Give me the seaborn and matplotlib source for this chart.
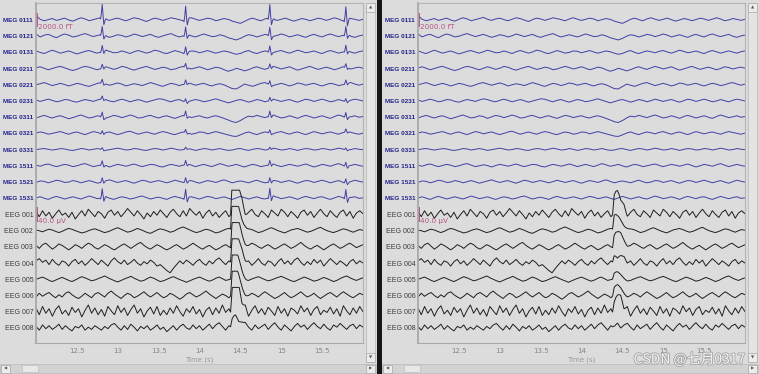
import numpy as np
import pandas as pd
import matplotlib
matplotlib.use("Agg")
import matplotlib.pyplot as plt
import seaborn as sns
from matplotlib.patches import Rectangle
import matplotlib.patheffects as pe

# ---------------- data ----------------
T_START, T_STOP = 12.0, 16.0
MEG_STEP = 0.05   # s between values of the MEG lists
EEG_STEP = 0.04   # s between values of the EEG lists

MEG_NAMES = ['MEG 0111', 'MEG 0121', 'MEG 0131', 'MEG 0211', 'MEG 0221', 'MEG 0231',
             'MEG 0311', 'MEG 0321', 'MEG 0331', 'MEG 1511', 'MEG 1521', 'MEG 1531']
EEG_NAMES = ['EEG 001', 'EEG 002', 'EEG 003', 'EEG 004',
             'EEG 005', 'EEG 006', 'EEG 007', 'EEG 008']

# cleaned MEG traces (fT)
MEG_0111 = [600, 100, -100, 50, 200, -50, 100, 250, 0, -150,
            100, 300, 150, -100, 50, 200, 350, 100, -50, 150,
            250, 50, -100, 100, 300, 200, 0, -200, 50, 250,
            150, -50, 100, 300, 200, 50, -100, 150, 300, 100,
            -50, 100, 250, 150, -100, 50, 200, 100, -150, -300,
            -450, -200, 100, 250, 50, -100, 150, 300, 100, -50,
            100, 250, 50, -150, 0, 200, 100, -100, 50, 250,
            150, -50, 100, 300, 150, -100, 0, 200, 100, -50, 100]
MEG_0121 = [300, -100, 150, 250, 0, -200, 100, 300, 150, -100,
            0, 200, 350, 150, -50, 100, 250, 50, -150, 0,
            200, 100, -100, 50, 300, 150, -50, 100, 250, 0,
            -150, 50, 200, 350, 100, -100, 50, 200, 50, -100,
            100, 300, 150, -50, 0, 200, 50, -200, -350, -500,
            -300, 0, 200, 100, -100, 50, 250, 150, -50, 100,
            300, 150, -100, 50, 200, 0, -150, 100, 250, 50,
            -100, 150, 300, 100, -50, 100, 250, 0, -150, 50, 150]
MEG_0131 = [200, 0, -150, 100, 300, 100, -100, 50, 200, 0,
            -200, -50, 150, 250, 50, -100, 100, 300, 150, -50,
            0, 200, 50, -150, 100, 250, 100, -100, 50, 300,
            200, -50, -150, 50, 250, 100, -100, 0, 200, 150,
            -50, 100, 250, 50, -100, 50, 200, 100, -100, -250,
            -150, 100, 250, 0, -150, 50, 200, 100, -50, 150,
            250, 50, -100, 100, 300, 150, -50, 50, 200, 0,
            -150, 100, 250, 100, -100, 50, 200, 50, -100, 100, 200]
MEG_0211 = [100, 250, 50, -150, 0, 200, 300, 100, -100, -250,
            -100, 150, 300, 200, 0, -150, 50, 250, 100, -100,
            50, 300, 200, -50, -200, 0, 150, 300, 100, -100,
            0, 200, 100, -150, -50, 150, 300, 150, -50, 100,
            250, 50, -150, 0, 200, 100, -150, -350, -200, 50,
            -100, -300, -150, 100, 250, 50, -100, 100, 300, 150,
            -50, 100, 250, 0, -200, -50, 150, 300, 100, -100,
            50, 200, 50, -150, 0, 250, 150, -50, 100, 200, 50]
MEG_0221 = [0, 150, 300, 100, -100, 50, 200, 50, -150, 0,
            200, 100, -100, -200, 0, 200, 300, 100, -50, 100,
            250, 100, -150, 0, 150, 50, -100, 100, 300, 150,
            -50, -200, 0, 200, 100, -100, 50, 250, 150, -50,
            100, 200, 0, -150, 50, 150, 0, -250, -500, -550,
            -250, 100, -50, -200, 0, 200, 300, 100, -100, 50,
            200, 50, -150, 0, 250, 150, -50, 100, 200, 0,
            -150, 50, 200, 100, -100, 0, 200, 300, 100, -50, 100]
MEG_0231 = [150, -50, 100, 250, 100, -100, 0, 200, 150, -50,
            -150, 50, 200, 100, -50, 150, 300, 200, 0, -100,
            100, 250, 100, -100, 50, 200, 50, -150, 0, 150,
            300, 250, 50, -100, 100, 200, 0, -150, 50, 200,
            100, -100, 0, 150, 300, 100, -50, -250, -100, 100,
            200, 50, -150, 0, 200, 100, -100, 50, 250, 100,
            -50, 100, 200, 0, -150, 50, 250, 150, -50, 100,
            250, 100, -100, 0, 200, 50, -100, 100, 250, 150, 0]
MEG_0311 = [-100, 100, 250, 50, -100, 100, 200, 0, -200, -50,
            150, 300, 100, -100, 0, 200, 100, -150, 50, 250,
            150, -50, 100, 300, 150, -100, -50, 150, 250, 50,
            -100, 100, 200, 0, -150, 50, 250, 150, -50, 100,
            200, 0, -100, 100, 200, 50, -150, -350, -600, -700,
            -450, -100, 150, 50, 250, 100, -50, 150, 300, 100,
            -100, 0, 200, 50, -150, 100, 250, 100, -100, 50,
            200, 0, -150, 100, 300, 150, -50, 50, 200, 0, 100]
MEG_0321 = [50, 200, 100, -100, 0, 150, 250, 50, -100, 100,
            200, 0, -150, 50, 250, 150, -50, 100, 200, 0,
            -150, 0, 200, 300, 100, -100, 50, 200, 50, -100,
            100, 250, 150, -50, -150, 50, 200, 100, -100, 0,
            200, 150, -50, 100, 250, 100, -50, -200, -350, -400,
            -200, 50, 200, 0, -150, 50, 200, 100, -50, 150,
            250, 50, -100, 100, 200, 0, -150, 50, 250, 100,
            -50, 100, 200, 50, -100, 100, 250, 150, 0, -100, 50]
MEG_0331 = [0, 100, 150, 50, -50, 50, 150, 100, -50, -100,
            0, 150, 100, -50, 50, 150, 50, -100, 0, 100,
            200, 100, -50, 0, 150, 100, -50, -100, 50, 150,
            100, -50, 50, 200, 100, -50, 0, 150, 50, -100,
            0, 150, 100, -50, 50, 150, 0, -100, -50, 100,
            150, 0, -100, 50, 150, 100, -50, 50, 200, 100,
            -50, 0, 150, 50, -100, 50, 150, 100, -50, 0,
            150, 100, -50, 50, 200, 100, -50, 0, 150, 50, 0]
MEG_1511 = [100, -50, 150, 250, 50, -100, 50, 200, 100, -100,
            0, 200, 300, 100, -100, 0, 150, 50, -150, 50,
            200, 100, -50, 100, 250, 50, -100, 50, 200, 150,
            -50, -150, 50, 200, 100, -50, 100, 250, 100, -100,
            50, 200, 50, -100, 100, 300, 150, -50, 50, 200,
            0, -150, 50, 200, 100, -100, 0, 150, 250, 50,
            -100, 50, 200, 100, -50, 100, 250, 50, -150, 0,
            200, 100, -50, 150, 300, 100, -100, 50, 200, 50, -50]
MEG_1521 = [-50, 150, 100, -100, 50, 250, 150, -50, 0, 200,
            100, -100, 50, 200, 50, -150, 0, 150, 300, 100,
            -50, 100, 200, 0, -150, 50, 250, 150, -50, 100,
            200, 50, -100, 50, 250, 100, -50, 100, 200, 0,
            -150, 50, 200, 100, -50, 150, 300, 100, -100, 50,
            150, 50, -100, 100, 250, 50, -100, 0, 200, 150,
            -50, 100, 200, 0, -150, 50, 200, 150, -50, 100,
            250, 100, -100, 50, 200, 0, -150, 50, 250, 100, 0]
MEG_1531 = [50, 200, 0, -150, 100, 250, 100, -100, 50, 200,
            50, -100, 100, 300, 150, -50, 50, 200, 0, -150,
            50, 200, 100, -100, 0, 200, 300, 100, -100, 50,
            150, 0, -150, 100, 250, 100, -50, 50, 200, 50,
            -100, 100, 250, 150, -50, 50, 200, 0, -150, 50,
            250, 100, -100, 50, 200, 0, -100, 100, 300, 150,
            -50, 50, 200, 50, -150, 100, 250, 100, -50, 150,
            200, 0, -150, 50, 250, 100, -50, 100, 200, 0, 50]

# cleaned EEG traces (uV)
EEG_001 = [8, -6, 10, -4, 6, -10, 2, 12, -2, 4, -8, 6, -12, 0, 10, -4, 14, 4, -6, 8,
           2, -10, 6, 12, -2, 8, -6, 4, 16, 6, -4, 10, 0, -12, 4, -6, 8, -2, 12, 2,
           -8, 6, 14, 2, -6, 10, -4, 16, 6, -2, 8, -10, 4, 12, -4, 6, -8, 2, 10, -6,
           4, 12, -2, 8, -10, 6, 14, 0, -6, 10, 2, -8, 12, 4, -4, 14, 6, -6, 8, 0,
           -10, 6, 12, -2, 8, -8, 4, 14, 2, -6, 10, 0, -8, 6, 12, -4, 8, -10, 4, 10, 2]
EEG_002 = [2, 0, -3, 1, 4, 2, -2, -5, -2, 3, 6, 4, 0, -3, -6, -4, 0, 3, 5, 2,
           -2, -5, -3, 1, 5, 8, 4, 0, -4, -2, 2, 6, 3, -1, -5, -7, -3, 2, 5, 3,
           0, -4, -2, 3, 7, 10, 6, 2, -2, -5, -3, 1, 4, 2, -2, -6, -4, 0, 4, 6,
           3, -1, -4, -2, 2, 5, 3, -1, -5, -3, 1, 5, 8, 4, 0, -3, -6, -2, 2, 4,
           6, 3, -1, -4, -2, 2, 6, 9, 4, 0, -3, -5, -2, 2, 5, 3, -1, -4, 0, 3, 1]
EEG_003 = [4, -4, 6, 10, 2, -6, 0, 8, 4, -2, -8, -2, 6, 2, -4, 4, 10, 6, -2, -6,
           0, 6, 2, -4, -8, -2, 4, 8, 2, -4, 2, 8, 12, 4, -2, -6, 0, 6, 2, -4,
           -8, -4, 2, 6, 0, -6, -2, 4, 10, 4, -2, -6, 0, 4, -2, -8, -4, 2, 6, 0,
           -4, 2, 8, 4, -2, 4, 10, 6, 0, -4, 2, 6, 0, -6, -2, 4, 8, 2, -4, 0,
           6, 12, 4, -2, -6, 0, 4, -2, -8, -2, 4, 8, 2, -4, 0, 6, 10, 4, -2, 2, 6]
EEG_004 = [6, 12, 2, 8, -4, 10, 0, -6, 6, 2, -8, 4, 10, -2, 6, -6, 2, 12, 4, -4,
           8, 0, -8, 6, 14, 4, -2, 8, -4, 2, 10, 0, -6, 4, -2, 8, 2, -8, -4, -12,
           -20, -26, -14, -4, 6, -2, 8, 2, -6, 4, 10, 0, -6, 6, -2, 8, 14, 4, -4, 6,
           0, -8, 4, 10, -2, 6, -6, 2, 12, 0, -6, 6, 2, -8, 4, 12, -2, 6, -4, 8,
           14, 2, -6, 4, -4, 10, 0, 8, -8, 2, 12, 4, -4, 6, 0, -8, 4, 10, -2, 6, 0]
EEG_005 = [0, 3, 6, 2, -3, -6, -2, 2, 5, 1, -3, -6, -2, 3, 7, 4, 0, -4, -2, 2,
           5, 9, 4, 0, -4, -7, -3, 1, 4, 8, 3, -1, -5, -3, 2, 6, 3, -2, -6, -4,
           0, 4, 7, 3, -1, -4, -8, -4, 0, 3, 6, 2, -2, -5, -2, 3, 6, 2, -3, -1,
           2, 5, 1, -3, -6, -3, 1, 4, 7, 3, -1, -4, -2, 2, 5, 8, 4, 0, -4, -6,
           -2, 2, 6, 3, -1, -5, -3, 1, 5, 2, -2, -6, -3, 2, 6, 9, 4, 0, -3, 1, 4]
EEG_006 = [-4, 6, -2, 4, 8, 0, -6, 2, -4, 6, 10, 2, -4, -8, -2, 6, 0, -6, 4, 8,
           2, -4, 6, 12, 4, -2, -8, 0, 6, 2, -6, -2, 4, 10, 2, -4, 2, 8, 0, -6,
           -2, 6, 2, -4, -10, -4, 4, 8, 2, -4, 0, 6, 12, 4, -2, -8, -2, 4, 0, -6,
           2, 8, 4, -2, -6, 0, 6, 2, -4, 4, 10, 4, -2, -8, -4, 2, 8, 0, -6, -2,
           4, 10, 2, -4, 0, 6, -2, -8, -2, 4, 8, 2, -4, 4, 10, 4, -2, -6, 0, 6, 2]
EEG_007 = [10, -8, 14, -4, 8, -12, 6, 16, -6, 4, -10, 12, -2, 8, -14, 4, 18, -4, 10, -8,
           6, -12, 14, 2, -8, 16, -2, 10, -10, 6, 18, -4, 8, -14, 2, 12, -6, 14, -10, 4,
           -8, 10, -4, 16, 0, -12, 8, -2, 14, -6, 6, -14, 4, 12, -8, 10, -4, 18, -2, 8,
           -10, 6, 14, -6, 10, -12, 4, 16, -4, 8, -8, 12, 2, -10, 14, -4, 8, -12, 10, 4,
           -6, 16, 0, 10, -10, 6, 14, -8, 4, -2, 12, -6, 8, -12, 16, 2, -8, 10, -4, 14, 0]
EEG_008 = [4, -6, 8, -2, 6, -4, 2, 10, -4, 6, -2, -8, 4, 0, 8, -6, 2, -4, 6, 0,
           -6, 4, -2, 8, 12, 2, -6, 6, -4, 10, 2, -8, 4, -2, 6, -6, 0, 8, -4, 2,
           -10, -2, 6, -6, 4, 10, 0, -4, 8, -2, 6, -6, 2, 10, -2, 8, 14, 4, -6, 6,
           0, 8, -4, 6, 12, 2, -6, 8, -2, 4, 10, -4, 6, 14, 2, -6, 8, 0, -8, 4,
           12, 2, 8, -4, 6, 14, 4, -2, 10, 0, -6, 8, 2, 12, 4, -4, 6, 10, -2, 8, 2]

MEG_TRACES = [MEG_0111, MEG_0121, MEG_0131, MEG_0211, MEG_0221, MEG_0231,
              MEG_0311, MEG_0321, MEG_0331, MEG_1511, MEG_1521, MEG_1531]
EEG_TRACES = [EEG_001, EEG_002, EEG_003, EEG_004, EEG_005, EEG_006, EEG_007, EEG_008]

# heartbeat artefact (only in the raw panel)
CARDIAC_TIMES = [12.81, 13.83, 14.86, 15.79]
CARDIAC_STEP = 0.01
CARDIAC_SHAPE = [0.0, -0.1, 0.3, 1.0, 0.2, -0.45, -0.2, 0.0, 0.05, 0.0]
CARDIAC_AMP_FT = [1800, 1100, 800, 500, 500, 400, 650, 400, 250, 550, 550, 1200]

# eye blink (raw panel full, cleaned panel residual)
BLINK_TIME = 14.38
BLINK_STEP = 0.02
BLINK_SHAPE = [0.0, 0.9, 1.0, 0.97, 0.9, 0.75, 0.55, 0.35, 0.2, 0.1, 0.03, 0.0]
BLINK_RAW_UV = [100, 90, 85, 80, 75, 70, 80, 28]
BLINK_CLEAN_UV = [54, 43, 40, 22, 16, 22, 40, 5]

MEG_SCALE_FT = 2000.0
EEG_SCALE_UV = 40.0
XTICKS = [12.0, 12.5, 13.0, 13.5, 14.0, 14.5, 15.0, 15.5, 16.0]
XTICK_LABELS = ['', '12.5', '13', '13.5', '14', '14.5', '15', '15.5', '']

# ---------------- style ----------------
W, H = 759, 374
BG = '#dcdcdc'
MEG_COLOR = '#4040a4'
EEG_COLOR = '#1e1e1e'
SCALE_COLOR = '#b2457d'
BAR_FRAC = 0.92
CLIP = 1.5
FINE_STEP = 0.005

sns.set_style("white")
plt.rcParams['font.family'] = ['DejaVu Sans']


def build_panel(cleaned):
    fine_t = np.round(np.arange(T_START, T_STOP + 1e-9, FINE_STEP), 4)
    frames = []
    meg_spacing = MEG_SCALE_FT / BAR_FRAC
    eeg_spacing = EEG_SCALE_UV / BAR_FRAC
    for i, (name, base) in enumerate(zip(MEG_NAMES, MEG_TRACES)):
        t_base = T_START + MEG_STEP * np.arange(len(base))
        sig = np.interp(fine_t, t_base, base)
        if not cleaned:
            for tc in CARDIAC_TIMES:
                t_tpl = tc + CARDIAC_STEP * (np.arange(len(CARDIAC_SHAPE)) - 3)
                sig = sig + CARDIAC_AMP_FT[i] * np.interp(fine_t, t_tpl, CARDIAC_SHAPE, left=0, right=0)
        off = np.clip(sig / meg_spacing, -CLIP, CLIP)
        frames.append(pd.DataFrame({'time': fine_t, 'pos': i - off, 'channel': name}))
    n_meg = len(MEG_NAMES)
    amps = BLINK_CLEAN_UV if cleaned else BLINK_RAW_UV
    for j, (name, base) in enumerate(zip(EEG_NAMES, EEG_TRACES)):
        t_base = T_START + EEG_STEP * np.arange(len(base))
        sig = np.interp(fine_t, t_base, base)
        t_tpl = BLINK_TIME + BLINK_STEP * np.arange(len(BLINK_SHAPE))
        sig = sig + amps[j] * np.interp(fine_t, t_tpl, BLINK_SHAPE, left=0, right=0)
        off = np.clip(sig / eeg_spacing, -CLIP, CLIP)
        frames.append(pd.DataFrame({'time': fine_t, 'pos': n_meg + j - off, 'channel': name}))
    return pd.concat(frames, ignore_index=True)


def px_rect(fig, x0, y0, x1, y1, **kw):
    fig.add_artist(Rectangle((x0 / W, 1 - y1 / H), (x1 - x0) / W, (y1 - y0) / H,
                             transform=fig.transFigure, **kw))


def px_text(fig, x, y, s, **kw):
    fig.text(x / W, 1 - y / H, s, **kw)


def draw_panel(fig, x_left, cleaned):
    ax = fig.add_axes([x_left / W, 1 - 343 / H, 327 / W, 340 / H])
    ax.set_facecolor(BG)
    df = build_panel(cleaned)
    names = MEG_NAMES + EEG_NAMES
    palette = {n: MEG_COLOR for n in MEG_NAMES}
    palette.update({n: EEG_COLOR for n in EEG_NAMES})
    sns.lineplot(data=df, x='time', y='pos', hue='channel', hue_order=names,
                 palette=palette, estimator=None, sort=False, legend=False,
                 linewidth=0.7, ax=ax)
    ax.set_xlim(T_START, T_STOP)
    ax.set_ylim(len(names) - 0.07, -1.05)

    # scale bars
    n_meg = len(MEG_NAMES)
    for idx, label in [(0, f'{MEG_SCALE_FT:.1f} fT'), (n_meg, f'{EEG_SCALE_UV:.1f} µV')]:
        ax.plot([T_START + 0.012] * 2, [idx - BAR_FRAC / 2, idx + BAR_FRAC / 2],
                color=SCALE_COLOR, lw=1.4, alpha=0.85, solid_capstyle='butt')
        ax.text(T_START + 0.03, idx + 0.42, label, color=SCALE_COLOR, fontsize=5.2,
                va='center', ha='left', alpha=0.9)

    ax.set_yticks(range(len(names)))
    ax.set_yticklabels(names)
    for lab, n in zip(ax.get_yticklabels(), names):
        lab.set_family(['Liberation Sans', 'DejaVu Sans'])
        if n in MEG_NAMES:
            lab.set_color('#24248c')
            lab.set_fontweight('bold')
            lab.set_fontsize(4.6)
        else:
            lab.set_color('#3a3a3a')
            lab.set_fontsize(5.0)
    ax.tick_params(axis='y', length=0, pad=2)
    ax.set_xticks(XTICKS)
    ax.set_xticklabels(XTICK_LABELS)
    ax.tick_params(axis='x', length=2, width=0.6, color='#a0a0a0', pad=1.5,
                   labelsize=5, labelcolor='#858585')
    ax.set_xlabel('Time (s)', fontsize=5, color='#999999', labelpad=2)
    ax.set_ylabel('')
    for side, sp in ax.spines.items():
        sp.set_color('#b4b4b4')
        sp.set_linewidth(0.8)
    ax.spines['left'].set_color('#a8a8a8')
    ax.spines['left'].set_linewidth(1.3)
    ax.spines['bottom'].set_color('#a8a8a8')

    # vertical scrollbar
    vx = x_left + 330
    px_rect(fig, vx, 3, vx + 9, 362, facecolor='#e4e4e4', edgecolor='#bdbdbd', lw=0.6)
    px_rect(fig, vx, 3, vx + 9, 12, facecolor='#ececec', edgecolor='#b0b0b0', lw=0.6)
    px_rect(fig, vx, 353, vx + 9, 362, facecolor='#ececec', edgecolor='#b0b0b0', lw=0.6)
    px_text(fig, vx + 4.5, 7.5, '▲', fontsize=3, ha='center', va='center', color='#555555')
    px_text(fig, vx + 4.5, 357.5, '▼', fontsize=3, ha='center', va='center', color='#555555')
    # horizontal scrollbar
    hx0 = x_left - 36
    px_rect(fig, hx0, 364, hx0 + 376, 373, facecolor='#d2d2d2', edgecolor='#c0c0c0', lw=0.6)
    px_rect(fig, hx0 + 1, 364.5, hx0 + 10, 372.5, facecolor='#ececec', edgecolor='#b0b0b0', lw=0.6)
    px_rect(fig, hx0 + 366, 364.5, hx0 + 375, 372.5, facecolor='#ececec', edgecolor='#b0b0b0', lw=0.6)
    px_rect(fig, hx0 + 22, 365, hx0 + 38, 372, facecolor='#e8e8e8', edgecolor='#c4c4c4', lw=0.6)
    px_text(fig, hx0 + 5.5, 368.5, '◀', fontsize=3, ha='center', va='center', color='#555555')
    px_text(fig, hx0 + 370.5, 368.5, '▶', fontsize=3, ha='center', va='center', color='#555555')
    return ax


fig = plt.figure(figsize=(W / 100, H / 100), dpi=100, facecolor=BG)
draw_panel(fig, 36, cleaned=False)
draw_panel(fig, 418, cleaned=True)

# divider between the two browser windows
px_rect(fig, 377, 0, 382, H, facecolor='#161616', edgecolor='none')

# site watermark
px_text(fig, 745, 359.5, 'CSDN @七月0317', fontsize=10, ha='right', va='center',
        color='white', alpha=0.9, family=['Noto Sans CJK SC', 'DejaVu Sans'],
        path_effects=[pe.withStroke(linewidth=1.2, foreground='#9a9a9a')])

fig.savefig('out.png', dpi=100, facecolor=BG)
